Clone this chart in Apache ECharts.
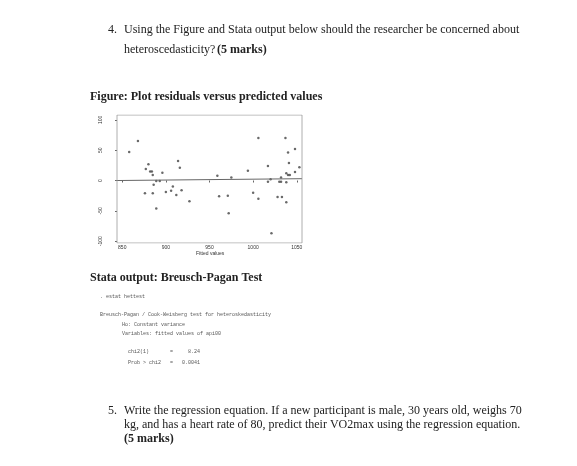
<!DOCTYPE html><html><head><meta charset="utf-8"><script src="https://cdn.jsdelivr.net/npm/echarts@6/dist/echarts.min.js"></script>
<style>html,body{margin:0;background:#fff}#c{width:577px;height:466px}</style></head><body><div id="c"></div><script>
const residuals=[[858,47],[868,65],[877,19],[880,27],[882,15],[884,15],[885,9],[876,-21],[885,-21],[886,-7],[889,-1],[893,-1],[889,-46],[896,13],[900,-19],[906,-17],[908,-10],[912,-24],[914,32],[916,21],[918,-16],[927,-34],[959,8],[961,-26],[971,-25],[972,-54],[975,5],[994,16],[1000,-20],[1006,70],[1006,-30],[1017,24],[1017,-2],[1020,2],[1021,-87],[1028,-27],[1030,-2],[1032,5],[1032,-2],[1033,-27],[1037,70],[1038,12],[1038,-3],[1038,-36],[1040,9],[1040,46],[1041,29],[1042,9],[1048,14],[1048,52],[1053,22]];
const fitLine=[[844,0],[1056,3]];
const xTicks=[850,900,950,1000,1050];
const yTicks=[-100,-50,0,50,100];
const serif='"Liberation Serif","DejaVu Serif",serif', mono='"Liberation Mono","DejaVu Sans Mono",monospace';
function t(x,y,s,o){return Object.assign({type:'text',left:x,top:y,style:Object.assign({text:s,font:'12px '+serif,fill:'#222'},o||{})});}
const g=[
t(108,24,'4.'),t(124,24,'Using the Figure and Stata output below should the researcher be concerned about'),
t(124,44,'heteroscedasticity?'),t(217,44,'(5 marks)',{font:'bold 12px '+serif}),
t(90,91,'Figure: Plot residuals versus predicted values',{font:'bold 12px '+serif}),
t(90,272,'Stata output: Breusch-Pagan Test',{font:'bold 12px '+serif}),
t(100,294,'. estat hettest',{font:'5px '+mono,fill:'#555'}),
t(100,312,'Breusch-Pagan / Cook-Weisberg test for heteroskedasticity',{font:'5px '+mono,fill:'#555'}),
t(122,322,'Ho: Constant variance',{font:'5px '+mono,fill:'#555'}),
t(122,331,'Variables: fitted values of api00',{font:'5px '+mono,fill:'#555'}),
t(128,349,'chi2(1)       =     8.24',{font:'5px '+mono,fill:'#555'}),
t(128,360,'Prob > chi2   =   0.0041',{font:'5px '+mono,fill:'#555'}),
t(108,405,'5.'),t(124,405,'Write the regression equation. If a new participant is male, 30 years old, weighs 70'),
t(124,419,'kg, and has a heart rate of 80, predict their VO2max using the regression equation.'),
t(124,433,'(5 marks)',{font:'bold 12px '+serif}),
t(196,251,'Fitted values',{font:'5px sans-serif',fill:'#333'})
];
const ch=echarts.init(document.getElementById('c'));
ch.setOption({animation:false,graphic:g,
grid:{left:117,top:115,width:185,height:128},
xAxis:{type:'value',min:844,max:1056,axisLine:{show:false},splitLine:{show:false},
 axisTick:{customValues:xTicks,length:2,lineStyle:{color:'#666'}},axisLabel:{customValues:xTicks,formatter:v=>String(v),fontSize:5,color:'#333',margin:2}},
yAxis:{type:'value',min:-103,max:108,axisLine:{show:false},splitLine:{show:false},
 axisTick:{customValues:yTicks,length:2,lineStyle:{color:'#666'}},axisLabel:{customValues:yTicks,fontSize:5,color:'#333',rotate:90,margin:14}},
series:[
{type:'scatter',data:residuals,symbolSize:2.5,itemStyle:{color:'#444'}},
{type:'line',data:fitLine,symbol:'none',lineStyle:{color:'#666',width:1}},
{type:'line',data:[[844,108],[1056,108],[1056,-103],[844,-103],[844,108]],symbol:'none',lineStyle:{color:'#999',width:0.8},silent:true}
]});
</script></body></html>
